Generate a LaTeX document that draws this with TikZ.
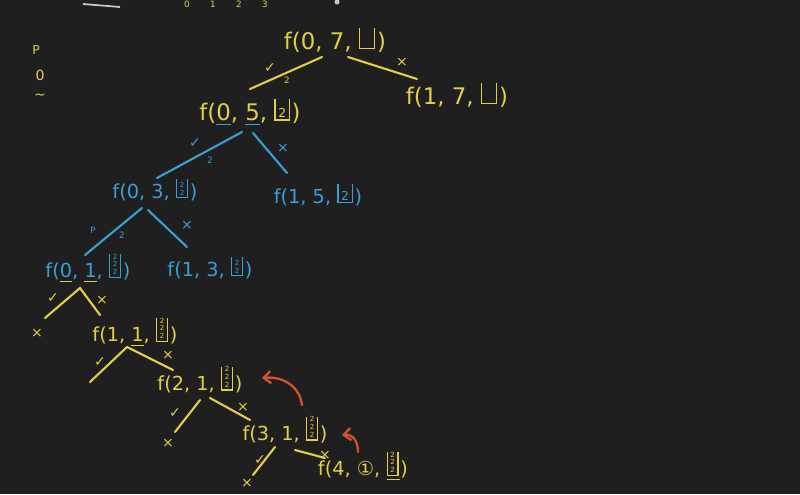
\documentclass[tikz,border=0pt]{standalone}
\usepackage{fontspec}
\setmainfont{DejaVu Sans}
\usepackage{xcolor}
\usepackage{tikz}
\usetikzlibrary{calc,arrows.meta}
\definecolor{board}{HTML}{1F1F1F}
\definecolor{yel}{HTML}{E2CF47}
\definecolor{blu}{HTML}{3A9FD2}
\definecolor{back}{HTML}{D2542B}
\definecolor{chalk}{HTML}{C8C8C8}
\newcommand{\opbox}[1]{\leavevmode\vbox{\hbox{\vrule width 0.7pt\kern1.5pt\vbox{\hbox{\rule{0pt}{1.5ex}#1}\kern1pt}\kern1.5pt\vrule width 0.7pt}\hrule height 0.7pt}\kern1pt}
\newcommand{\stk}[1]{{\fontsize{4}{4}\selectfont\vbox{\baselineskip=0pt\lineskiplimit=0pt\lineskip=1.5pt\halign{\hfil##\hfil\cr#1\crcr}}}}
\newcommand{\ulc}[2]{\setbox0\hbox{#2}\rlap{\textcolor{#1}{\rule[-2.5pt]{\wd0}{0.8pt}}}\box0}
\tikzset{
  ylin/.style={draw=yel, line width=1.2pt, line cap=round},
  blin/.style={draw=blu, line width=1.2pt, line cap=round},
  ret/.style={draw=back, line width=1.3pt, line cap=round, -{Straight Barb[length=4pt,width=7pt]}},
  ycall/.style={text=yel, font=\fontsize{13}{15}\selectfont, inner sep=0pt},
  bcall/.style={text=blu, font=\fontsize{11}{13}\selectfont, inner sep=0pt},
  ymark/.style={text=yel, font=\footnotesize, inner sep=0pt},
  bmark/.style={text=blu, font=\footnotesize, inner sep=0pt},
}

\begin{document}
\begin{tikzpicture}[x=0.02cm,y=-0.02cm]
  \fill[board] (0,0) rectangle (800,494);
  \clip (0,0) rectangle (800,494);

  % scraps at the top and the left
  \draw[chalk, line width=1pt] (83,4) -- (120,7);
  \foreach \d [count=\i] in {0,1,2,3}
    \node[ymark, font=\fontsize{5}{5}\selectfont] (top\i) at (161+26*\i,4) {\d};
  \fill[chalk] (337,2) circle (2.5);
  \node[ymark, font=\scriptsize] (p) at (36,50) {P};
  \node[ymark] (z) at (40,75) {0};
  \node[ymark] (w) at (40,97) {\textasciitilde};

  % calls
  \node[ycall] (root) at (335,40) {f(0, 7, \opbox{\kern5pt})};
  \node[ycall] (n1) at (250,112) {f(\ulc{blu}{0}, \ulc{blu}{5}, \opbox{\scriptsize 2})};
  \node[ycall] (n2) at (457,95) {f(1, 7, \opbox{\kern5pt})};
  \node[bcall] (n3) at (155,190) {f(0, 3, \opbox{\stk{2\cr 2}})};
  \node[bcall] (n4) at (318,195) {f(1, 5, \opbox{\scriptsize 2})};
  \node[bcall] (n5) at (88,268) {f(\ulc{yel}{0}, \ulc{yel}{1}, \opbox{\stk{2\cr 2\cr 2}})};
  \node[bcall] (n6) at (210,268) {f(1, 3, \opbox{\stk{2\cr 2}})};
  \node[ycall, font=\fontsize{11}{13}\selectfont] (n7) at (135,332) {f(1, \ulc{yel}{1}, \opbox{\stk{2\cr 2\cr 2}})};
  \node[ycall, font=\fontsize{11}{13}\selectfont] (n8) at (200,380) {f(2, 1, \opbox{\stk{2\cr 2\cr 2}})};
  \node[ycall, font=\fontsize{11}{13}\selectfont] (n9) at (285,430) {f(3, 1, \opbox{\stk{2\cr 2\cr 2}})};
  \node[ycall, font=\fontsize{11}{13}\selectfont] (n10) at (363,466) {f(4, ①, \ulc{yel}{\opbox{\stk{2\cr 2\cr 2}}})};

  % dead ends
  \node[ymark] (lx1) at (37,333) {×};
  \node[ymark] (lx2) at (168,443) {×};
  \node[ymark] (lx3) at (247,483) {×};
  \coordinate (e7) at (90,382);

  % branches
  \draw[ylin] ($(root)+(-13,17)$) -- ($(n1)+(0,-23)$);
  \draw[ylin] ($(root)+(13,17)$) -- ($(n2)+(-40,-16)$);
  \draw[blin] ($(n1)+(-8,20)$) -- ($(n3)+(2,-12)$);
  \draw[blin] ($(n1)+(3,21)$) -- ($(n4)+(-31,-22)$);
  \draw[blin] ($(n3)+(-13,18)$) -- ($(n5)+(-3,-13)$);
  \draw[blin] ($(n3)+(-7,20)$) -- ($(n6)+(-23,-21)$);
  \draw[ylin] ($(lx1)+(8,-15)$) -- ($(n5)+(-8,20)$) -- ($(n7)+(-35,-17)$);
  \draw[ylin] (e7) -- ($(n7)+(-8,15)$) -- ($(n8)+(-27,-10)$);
  \draw[ylin] ($(n8)+(0,20)$) -- ($(lx2)+(7,-11)$);
  \draw[ylin] ($(n8)+(10,18)$) -- ($(n9)+(-35,-10)$);
  \draw[ylin] ($(n9)+(-10,17)$) -- ($(lx3)+(6,-8)$);
  \draw[ylin] ($(n9)+(10,20)$) -- ($(n10)+(-38,-8)$);

  % pick / skip marks
  \node[ymark] (k1) at (270,68) {✓};
  \node[ymark, font=\tiny] (t1) at (287,80) {2};
  \node[ymark] (s1) at (402,62) {×};
  \node[bmark] (k2) at (195,143) {✓};
  \node[bmark, font=\tiny] (t2) at (210,160) {2};
  \node[bmark] (s2) at (283,148) {×};
  \node[bmark, font=\tiny] (k3) at (93,230) {P};
  \node[bmark, font=\tiny] (t3) at (122,235) {2};
  \node[bmark] (s3) at (187,225) {×};
  \node[ymark] (k4) at (53,298) {✓};
  \node[ymark] (s4) at (102,300) {×};
  \node[ymark] (k5) at (100,362) {✓};
  \node[ymark] (s5) at (168,355) {×};
  \node[ymark] (k6) at (175,413) {✓};
  \node[ymark] (s6) at (243,407) {×};
  \node[ymark] (k7) at (260,460) {✓};
  \node[ymark] (s7) at (325,455) {×};

  % returning
  \draw[ret] ($(n9)+(17,-25)$) .. controls (300,388) and (285,376) .. ($(n8)+(62,-2)$);
  \draw[ret] ($(n10)+(-5,-14)$) .. controls (358,440) and (352,434) .. ($(n9)+(57,5)$);
\end{tikzpicture}
\end{document}
